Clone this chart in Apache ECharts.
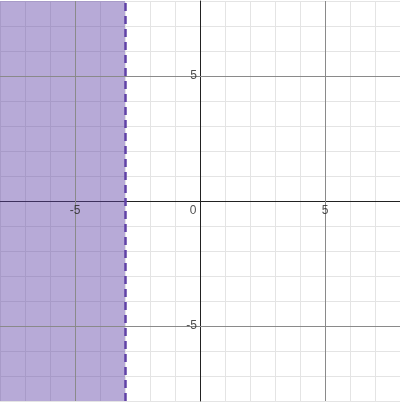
<!DOCTYPE html><html><head><meta charset="utf-8"><script src="https://cdn.jsdelivr.net/npm/echarts@6/dist/echarts.min.js"></script></head><body style="margin:0"><div id="c" style="width:400px;height:402px"></div><script>
const xRange=[-8,8], yRange=[-8,8];
const boundaryX=-3;
const majorTicks=[-5,5];
const chart=echarts.init(document.getElementById('c'));
const xLabels=majorTicks.map(v=>[v,0,String(v)]).concat([[0,0,'0']]);
const yLabels=majorTicks.map(v=>[0,v,String(v)]);
const txt={color:'#222',fontSize:12,fontFamily:'Arial'};
chart.setOption({animation:false,
grid:{left:0,right:0,top:1,bottom:1,containLabel:false,outerBoundsMode:'none'},
xAxis:{type:'value',min:xRange[0],max:xRange[1],interval:1,
 axisLine:{onZero:true,lineStyle:{color:'#222',width:1}},axisTick:{show:false},axisLabel:{show:false},
 splitLine:{lineStyle:{color:'#e4e4e4'}}},
yAxis:{type:'value',min:yRange[0],max:yRange[1],interval:1,
 axisLine:{onZero:true,lineStyle:{color:'#222',width:1}},axisTick:{show:false},axisLabel:{show:false},
 splitLine:{lineStyle:{color:'#e4e4e4'}}},
series:[{type:'line',data:[],
 markLine:{silent:true,symbol:'none',label:{show:false},lineStyle:{color:'#8a8a8a',type:'solid',width:1},
  data:majorTicks.map(v=>({xAxis:v})).concat(majorTicks.map(v=>({yAxis:v})))}},
 {type:'line',data:[],
 markArea:{silent:true,itemStyle:{color:'rgba(96,66,166,0.45)'},data:[[{xAxis:xRange[0]},{xAxis:boundaryX}]]},
 markLine:{silent:true,symbol:'none',label:{show:false},lineStyle:{color:'#6042a6',type:[8,5],width:2.5},data:[{xAxis:boundaryX}]}},
 {type:'scatter',symbolSize:0,data:xLabels,z:10,
  label:{show:true,formatter:p=>p.data[2],position:'bottom',distance:4,...txt,
   offset:[0,0]},
  labelLayout:p=>p.dataIndex===2?{dx:-7}:{}},
 {type:'scatter',symbolSize:0,data:yLabels,z:10,
  label:{show:true,formatter:p=>p.data[2],position:'left',distance:3,...txt}}
]});
</script></body></html>
